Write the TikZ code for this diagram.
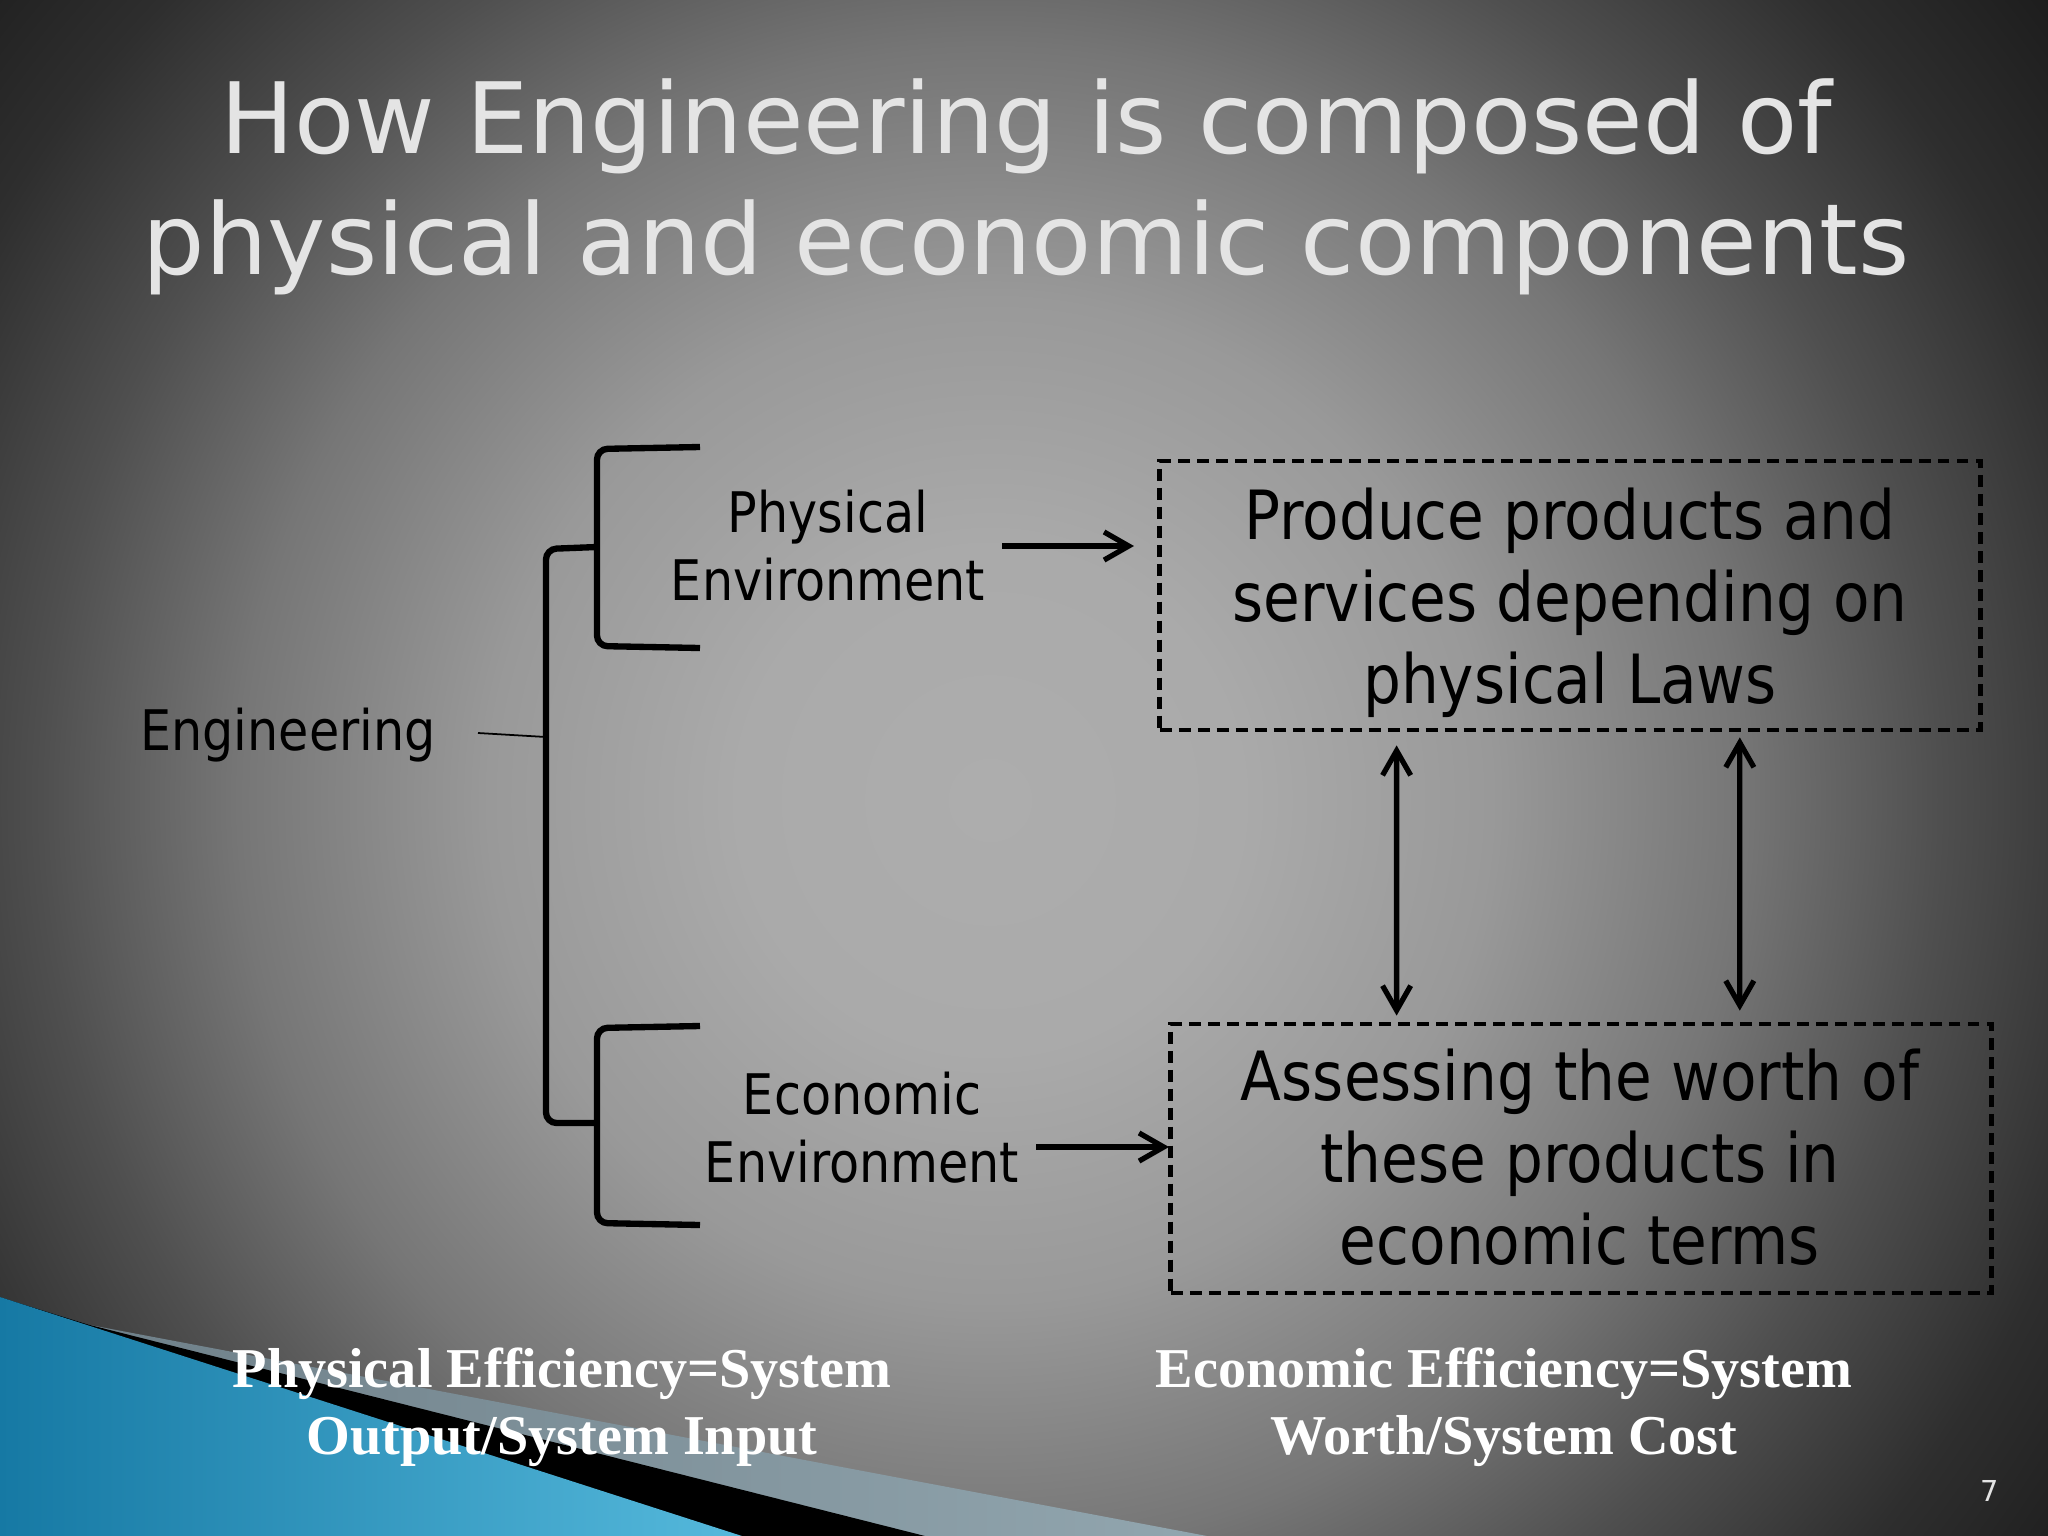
\documentclass[tikz,border=0pt]{standalone}
\usepackage{fontspec}
\setmainfont{DejaVu Sans}
\newfontfamily\tahoma[FakeStretch=0.88]{DejaVu Sans}
\newfontfamily\tnr{Liberation Serif}
\usetikzlibrary{arrows.meta}
\definecolor{bgA}{HTML}{ADADAD}
\definecolor{bgB}{HTML}{AAAAAA}
\definecolor{bgC}{HTML}{999999}
\definecolor{bgD}{HTML}{767676}
\definecolor{bgE}{HTML}{4F4F4F}
\definecolor{bgF}{HTML}{2E2E2E}
\definecolor{bgG}{HTML}{161616}
\definecolor{bgH}{HTML}{0C0C0C}
\definecolor{titlegray}{HTML}{E4E4E4}
\definecolor{stripeA}{HTML}{6C7D86}
\definecolor{stripeB}{HTML}{92A6AF}
\definecolor{blueA}{HTML}{1679A4}
\definecolor{blueB}{HTML}{55B9DC}
\pgfdeclareradialshading{slidebg}{\pgfpoint{0bp}{0bp}}{%
  color(0bp)=(bgA); color(71bp)=(bgB); color(142bp)=(bgC); color(213bp)=(bgD);
  color(269bp)=(bgE); color(326bp)=(bgF); color(397bp)=(bgG); color(496bp)=(bgH)}
\begin{document}
\begin{tikzpicture}[x=0.01cm,y=-0.01cm,
  brk/.style={line width=1.8pt,rounded corners=3pt},
  dbox/.style={draw,line width=1.3pt,dash pattern=on 3.4pt off 2pt,inner sep=0pt,
    minimum width=82mm,minimum height=26.9mm},
  arr/.style={line width=1.5pt,-{Straight Barb[length=7pt,width=8pt]}},
  dbl/.style={line width=1.5pt,{Straight Barb[length=7pt,width=8pt]}-{Straight Barb[length=7pt,width=8pt]}},
  boxtext/.style={align=center,anchor=base,inner sep=0pt,font=\tahoma\fontsize{19.3}{23.3}\selectfont},
  labtext/.style={align=center,anchor=base,inner sep=0pt,font=\tahoma\fontsize{15.9}{19.1}\selectfont},
  efftext/.style={align=center,anchor=base,inner sep=0pt,text=white,font=\tnr\bfseries\fontsize{16}{19}\selectfont},
  titletext/.style={align=center,anchor=base,inner sep=0pt,text=titlegray,font=\fontsize{28}{34.2}\selectfont}
]
\useasboundingbox (0,0) rectangle (2048,1536);
% background
\begin{scope}
  \clip (0,0) rectangle (2048,1536);
  \node[inner sep=0pt,outer sep=0pt] (bgshade) at (990,800) {\pgfuseshading{slidebg}};
\end{scope}
% bottom-left decoration
\shade[left color=stripeA,right color=stripeB] (0,1297) -- (90,1325) -- (1207,1536) -- (0,1536) -- cycle;
\fill[black] (0,1297) -- (90,1325) -- (925,1536) -- (0,1536) -- cycle;
\shade[left color=blueA,right color=blueB] (0,1297) -- (742,1536) -- (0,1536) -- cycle;
% title (base anchor = last line)
\node[titletext] (title) at (1026,274) {How Engineering is composed of\\physical and economic components};
% labels
\node[labtext] (eng) at (288,750) {Engineering};
\node[labtext] (physlab) at (828,600) {Physical\\Environment};
\node[labtext] (econlab) at (862,1182) {Economic\\Environment};
% brackets
\draw[brk] (700,447) -- (597,449) -- (597,646) -- (700,648);
\draw[brk] (700,1026) -- (597,1028) -- (597,1223) -- (700,1225);
\draw[brk] (597,547) -- (546,549) -- (546,1123) -- (597,1123);
\coordinate (engtip) at (478,733);
\coordinate (brkmid) at (546,737);
\draw[line width=0.5pt] (engtip) -- (brkmid);
% boxes
\node[dbox] (topbox) at (1570,595.5) {};
\node[dbox] (botbox) at (1581,1158.5) {};
\node[boxtext] (toptext) at (1570,703) {Produce products and\\services depending on\\physical Laws};
\node[boxtext] (bottext) at (1580,1264) {Assessing the worth of\\these products in\\economic terms};
% arrows
\coordinate (physout) at (1002,546);
\coordinate (physin) at (1134,546);
\coordinate (econout) at (1036,1147);
\coordinate (econin) at (1169,1147);
\draw[arr] (physout) -- (physin);
\draw[arr] (econout) -- (econin);
\draw[dbl] ([xshift=23.9mm,yshift=-1.3mm]topbox.south west) -- ([xshift=22.8mm,yshift=0.6mm]botbox.north west);
\draw[dbl] ([xshift=58.2mm,yshift=-0.5mm]topbox.south west) -- ([xshift=57.1mm,yshift=1.1mm]botbox.north west);
% efficiency texts
\node[efftext] (physeff) at (562,1454) {Physical Efficiency=System\\Output/System Input};
\node[efftext] (econeff) at (1504,1454) {Economic Efficiency=System\\Worth/System Cost};
% page number
\node[anchor=base,inner sep=0pt,text=titlegray,font=\fontsize{8.2}{10}\selectfont] (pagenum) at (1990,1501) {7};
\end{tikzpicture}
\end{document}
